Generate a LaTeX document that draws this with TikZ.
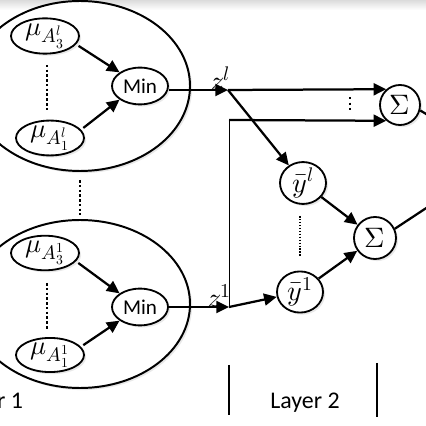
\documentclass[tikz,border=0pt]{standalone}
\usepackage{fontspec}
\usepackage{unicode-math}
\setmainfont{Carlito}
\setmathfont{Latin Modern Math}
\usetikzlibrary{arrows.meta,shapes.geometric,shadows,positioning}
\newcommand{\musub}[2]{\hbox{\fontsize{14}{16}\selectfont$A_{#1}^{#2}$}}

\begin{document}
\begin{tikzpicture}[
	font=\fontsize{15}{17}\selectfont,
	shad/.style={drop shadow={opacity=0.18, shadow xshift=1.5pt, shadow yshift=-1.5pt}},
	cell/.style={ellipse, draw, line width=1.4pt, fill=white, shad, minimum width=5.5cm, minimum height=4.25cm},
	muell/.style={ellipse, draw, line width=1.3pt, fill=white, shad, inner sep=0pt, minimum width=1.7cm, minimum height=0.8cm, font=\fontsize{19}{21}\selectfont},
	minell/.style={ellipse, draw, line width=1.3pt, fill=white, shad, inner sep=0pt, minimum width=1.4cm, minimum height=0.92cm},
	ybar/.style={ellipse, draw, line width=1.3pt, fill=white, shad, inner sep=0pt, minimum width=1.15cm, minimum height=0.78cm, font=\fontsize{20}{22}\selectfont},
	sumc/.style={circle, draw, line width=1.3pt, fill=white, shad, inner sep=0pt, minimum size=1.0cm, font=\fontsize{20}{22}\selectfont},
	zlab/.style={inner sep=1pt, font=\fontsize{20}{22}\selectfont},
	arr/.style={line width=1.6pt, -{Triangle[length=9pt,width=8.5pt]}},
	bigdots/.style={line width=1.8pt, dash pattern=on 1.8pt off 1.6pt},
	smalldots/.style={line width=1.1pt, dash pattern=on 1.1pt off 1pt},
	sep/.style={line width=1.1pt}
	]
		\useasboundingbox (0,0) rectangle (10.65,10.65);
		\clip (0,0) rectangle (10.65,10.65);
		
		%shadow band at the top
		\shade[top color=black!14, bottom color=white] (0,10.4) rectangle (10.65,10.65);
		
		%layer 1 cells
		\node[cell] (celltop) at (2.0,8.5) {};
		\node[cell, minimum height=4.2cm] (cellbot) at (2.0,3.05) {};
		\draw[bigdots] (2.0,6.15) -- (2.0,5.275);
		
		\node[muell] (mutop3) at (1.125,9.75) {$\mu_{\musub{3}{l}}$};
		\node[muell] (mutop1) at (1.25,7.2) {$\mu_{\musub{1}{l}}$};
		\node[minell] (mintop) at (3.5,8.5) {Min};
		\draw[bigdots] (1.175,9.03) -- (1.175,7.9);
		
		\node[muell] (mubot3) at (1.125,4.325) {$\mu_{\musub{3}{1}}$};
		\node[muell] (mubot1) at (1.25,1.775) {$\mu_{\musub{1}{1}}$};
		\node[minell] (minbot) at (3.5,2.975) {Min};
		\draw[bigdots] (1.175,3.575) -- (1.175,2.4);
		
		\draw[arr, shorten <=2pt] (mutop3.-15) -- (mintop.north west);
		\draw[arr, shorten <=2pt] (mutop1.15) -- (mintop.south west);
		\draw[arr, shorten <=2pt] (mubot3.-15) -- (minbot.north west);
		\draw[arr, shorten <=2pt] (mubot1.15) -- (minbot.south west);
		
		%layer 2
		\coordinate (zl) at (5.7,8.4);
		\coordinate (zone) at (5.725,2.975);
		\coordinate (corner) at (5.725,7.65);
		
		\node[sumc] (sumtop) at (10.0,8.025) {$\Sigma$};
		\node[sumc, minimum size=1.05cm] (sumbot) at (9.375,4.7) {$\Sigma$};
		\node[ybar] (ybarl) at (7.575,6.075) {$\bar{y}^l$};
		\node[ybar] (ybarone) at (7.5,3.35) {$\bar{y}^1$};
		\draw[smalldots] (7.5,5.25) -- (7.5,4.25);
		\draw[line width=1.6pt, dash pattern=on 1.6pt off 2.2pt] (8.75,8.22) -- (8.75,7.84);
		
		\draw[arr] (mintop.east |- zl) -- (zl);
		\draw[arr] (minbot.east) -- (zone);
		\node[zlab] (zllabel) [above left=-2pt and -3pt of zl] {$z^l$};
		\node[zlab] (zonelabel) [above left=-2pt and -3pt of zone] {$z^1$};
		
		\draw[arr] (zl) -- (sumtop.131);
		\draw[arr] (zl) -- (ybarl);
		\draw[line width=0.5pt] (zone) -- (corner);
		\draw[arr] (corner) -- (sumtop.-131);
		\draw[arr] (zone) -- (ybarone);
		\draw[arr] (ybarl) -- (sumbot);
		\draw[arr] (ybarone) -- (sumbot);
		
		%outputs
		\coordinate (outtop) at (10.98,7.6);
		\coordinate (outbot) at (10.9,5.61);
		\draw[line width=1.6pt] (sumtop.-15) -- (outtop);
		\draw[line width=1.6pt] (sumbot.25) -- (outbot);
		
		%layer names
		\node (layerone) at (-0.29,0.575) {\fontsize{17}{19}\selectfont Layer 1};
		\node (layertwo) at (7.625,0.575) {\fontsize{17}{19}\selectfont Layer 2};
		\draw[sep] (5.725,1.525) -- (5.725,0.275);
		\draw[sep] (9.425,1.575) -- (9.425,0.225);
\end{tikzpicture}
\end{document}
